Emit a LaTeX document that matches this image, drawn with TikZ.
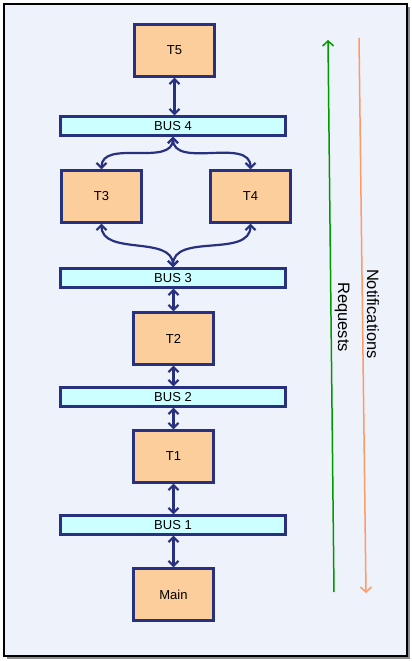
\documentclass[tikz,border=0pt]{standalone}
\usepackage{fontspec}
\setmainfont{Liberation Sans}
\usetikzlibrary{arrows.meta}
\definecolor{bgc}{HTML}{EEF2FA}
\definecolor{boxfill}{HTML}{FBCE9B}
\definecolor{busfill}{HTML}{CCFFFF}
\definecolor{navy}{HTML}{283080}
\definecolor{reqgreen}{HTML}{009900}
\definecolor{notorange}{HTML}{FF9966}
\tikzset{
  task/.style={draw=navy, fill=boxfill, line width=2.2pt, minimum width=80pt, minimum height=52pt, inner sep=0pt, font=\fontsize{13}{15}\selectfont},
  bus/.style={draw=navy, fill=busfill, line width=2.2pt, minimum width=225pt, minimum height=19pt, inner sep=0pt, font=\fontsize{13}{15}\selectfont},
  link/.style={draw=navy, line width=2.2pt, {Straight Barb[length=5pt,width=10pt]}-{Straight Barb[length=5pt,width=10pt]}},
  flowlabel/.style={rotate=-90, font=\fontsize{16.5}{18}\selectfont},
}
\begin{document}
\begin{tikzpicture}[x=1pt,y=-1pt]
\useasboundingbox (0,0) rectangle (412,661);
\fill[black!45] (7,7) rectangle (410,659);
\draw[fill=bgc, line width=1.5pt] (4,4) rectangle (407,656);

\node[task] (t5) at (174.5,50.5) {T5};
\node[bus] (bus4) at (173,126) {BUS 4};
\node[task] (t3) at (101.5,196.5) {T3};
\node[task] (t4) at (250.5,196.5) {T4};
\node[bus] (bus3) at (173,278) {BUS 3};
\node[task] (t2) at (173.5,338.5) {T2};
\node[bus] (bus2) at (173,397) {BUS 2};
\node[task] (t1) at (173.5,456.5) {T1};
\node[bus] (bus1) at (173,525) {BUS 1};
\node[task] (main) at (173.5,594.5) {Main};

\draw[link] (t5.south) -- (t5.south |- bus4.north);
\draw[link] (bus4.south) to[out=-90,in=90] (t3.north);
\draw[link] (bus4.south) to[out=-90,in=90] (t4.north);
\draw[link] (t3.south) to[out=-90,in=90] (bus3.north);
\draw[link] (t4.south) to[out=-90,in=90] (bus3.north);
\draw[link] (bus3.south -| t2.north) -- (t2.north);
\draw[link] (t2.south) -- (t2.south |- bus2.north);
\draw[link] (bus2.south -| t1.north) -- (t1.north);
\draw[link] (t1.south) -- (t1.south |- bus1.north);
\draw[link] (bus1.south -| main.north) -- (main.north);

\coordinate (reqS) at (334,592);
\coordinate (reqE) at (328,40);
\coordinate (notS) at (359,38);
\coordinate (notE) at (366,593);
\draw[reqgreen, line width=1.5pt, -{Straight Barb[length=5pt,width=11pt]}] (reqS) -- (reqE);
\draw[notorange, line width=1.5pt, -{Straight Barb[length=5pt,width=11pt]}] (notS) -- (notE);
\node[flowlabel] (req) at (342,317) {Requests};
\node[flowlabel] (notif) at (373,314) {Notifications};
\end{tikzpicture}
\end{document}
